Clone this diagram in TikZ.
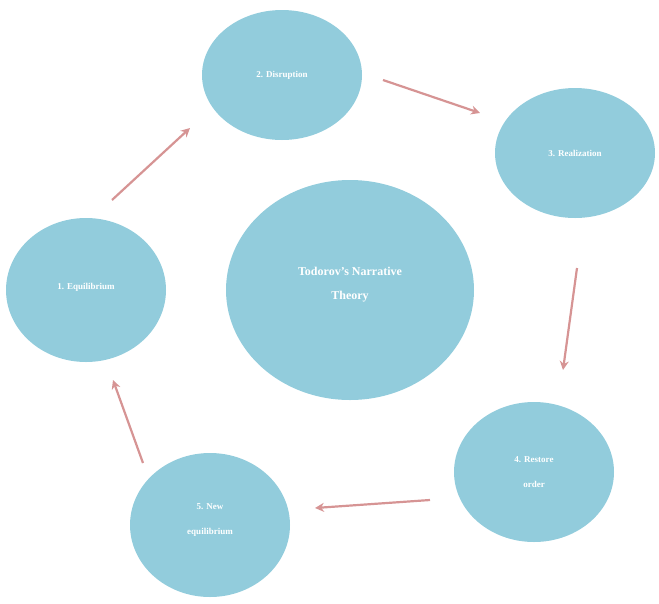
\documentclass[tikz,border=0pt]{standalone}
\usepackage{fontspec}
\setmainfont{Liberation Serif}
\usetikzlibrary{arrows.meta}
\definecolor{bub}{RGB}{146,204,220}
\definecolor{arr}{RGB}{214,148,148}
\begin{document}
\begin{tikzpicture}[x=1pt,y=-1pt,
  bubble/.style={text=white,font=\small\bfseries,align=center,inner sep=0pt},
  conn/.style={draw=arr,line width=2.2pt,-{Stealth[length=9pt,width=9pt]}}]
\useasboundingbox (0,0) rectangle (659,603);
\fill[bub] (282,75) ellipse [x radius=80,y radius=65];
\node[bubble] (d) at (282,75) {2. Disruption};
\fill[bub] (575,153) ellipse [x radius=80,y radius=65];
\node[bubble] (r) at (575,153) {3. Realization};
\fill[bub] (350,290) ellipse [x radius=124,y radius=110];
\node[bubble,font=\large\bfseries] (t) at (350,285) {Todorov's Narrative\\[10pt]Theory};
\fill[bub] (86,290) ellipse [x radius=80,y radius=72];
\node[bubble] (e) at (86,287) {1. Equilibrium};
\fill[bub] (534,472) ellipse [x radius=80,y radius=70];
\node[bubble] (o) at (534,472) {4. Restore\\[14pt]order};
\fill[bub] (210,525) ellipse [x radius=80,y radius=72];
\node[bubble] (n) at (210,520) {5. New\\[14pt]equilibrium};
\coordinate (a1) at (112,200); \coordinate (b1) at (190,128);
\coordinate (a2) at (383,80); \coordinate (b2) at (480,113);
\coordinate (a3) at (577,268); \coordinate (b3) at (563,370);
\coordinate (a4) at (430,500); \coordinate (b4) at (315,508);
\coordinate (a5) at (143,463); \coordinate (b5) at (113,380);
\draw[conn] (a1) -- (b1);
\draw[conn] (a2) -- (b2);
\draw[conn] (a3) -- (b3);
\draw[conn] (a4) -- (b4);
\draw[conn] (a5) -- (b5);
\end{tikzpicture}
\end{document}
